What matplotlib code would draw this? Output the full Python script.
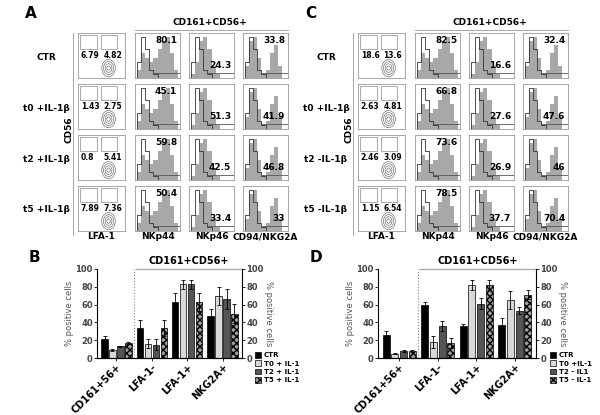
import matplotlib
matplotlib.use("Agg")
import matplotlib.pyplot as plt
import numpy as np

W, H = 600, 415
fig = plt.figure(figsize=(6, 4.15), dpi=100)

def ax_px(x0, y0, x1, y1):
    return fig.add_axes([x0 / W, 1 - y1 / H, (x1 - x0) / W, (y1 - y0) / H])

# ---------------- data ----------------
rowsA = ["CTR", "t0 +IL-1β", "t2 +IL-1β", "t5 +IL-1β"]
rowsC = ["CTR", "t0 +IL-1β", "t2 -IL-1β", "t5 -IL-1β"]
dotA = [("6.79", "4.82"), ("1.43", "2.75"), ("0.8", "5.41"), ("7.89", "7.36")]
dotC = [("18.6", "13.6"), ("2.63", "4.81"), ("2.46", "3.09"), ("1.15", "6.54")]
histA = [("80.1", "24.3", "33.8"), ("45.1", "51.3", "41.9"),
         ("59.8", "42.5", "46.8"), ("50.4", "33.4", "33")]
histC = [("82.5", "16.6", "32.4"), ("66.8", "27.6", "47.6"),
         ("73.6", "26.9", "46"), ("78.5", "37.7", "70.4")]
hist_cols = ["NKp44", "NKp46", "CD94/NKG2A"]
# generic histogram shapes (heights per bin) per column: filled, control outline
shape_fill = [[0, 2, 6, 5, 4, 5, 7, 9, 10, 6, 2, 0],
              [0, 1, 4, 9, 10, 7, 3, 1, 0, 0, 0, 0],
              [0, 3, 9, 10, 5, 1, 2, 6, 8, 3, 0, 0]]
shape_ctrl = [0, 4, 10, 7, 2, 1, 0, 0, 0, 0, 0, 0]

groups = ["CD161+56+", "LFA-1-", "LFA-1+", "NKG2A+"]
seriesB = ["CTR", "T0 + IL-1", "T2 + IL-1", "T5 + IL-1"]
seriesD = ["CTR", "T0 +IL-1", "T2 - IL1", "T5 - IL-1"]
valsB = [[21, 34, 63, 47], [9, 16, 83, 70], [13, 15, 83, 66], [17, 34, 63, 50]]
errB = [[4, 9, 10, 8], [1, 5, 5, 10], [1, 6, 5, 11], [1, 9, 10, 11]]
valsD = [[26, 60, 36, 37], [5, 18, 82, 65], [8, 36, 61, 53], [8, 17, 82, 71]]
errD = [[4, 3, 2, 8], [1, 7, 6, 10], [1, 6, 6, 4], [1, 6, 6, 5]]
yticks = [0, 20, 40, 60, 80, 100]

colors = ["black", "#d8d8d8", "#555555", "#a0a0a0"]
hatches = [None, None, None, "xxxxx"]

def flow_block(xoff, rows, dots, hists, letter):
    fig.text((xoff + 5) / W, 1 - 18 / H, letter, fontsize=11, fontweight="bold")
    colx = [(xoff + 58, xoff + 105), (xoff + 115, xoff + 160),
            (xoff + 169, xoff + 214), (xoff + 223, xoff + 268)]
    fig.text((xoff + 190) / W, 1 - 25 / H, "CD161+CD56+", fontsize=6.5,
             fontweight="bold", ha="center")
    fig.add_artist(plt.Line2D([(xoff + 115) / W, (xoff + 268) / W],
                              [1 - 30 / H] * 2, color="#999999", lw=0.6))
    fig.add_artist(plt.Line2D([(xoff + 53) / W] * 2, [1 - 33 / H, 1 - 235 / H],
                              color="#999999", lw=0.6))
    for r in range(4):
        y0 = 33 + r * 51
        y1 = y0 + 45
        fig.text((xoff + 26) / W, 1 - (y0 + 24) / H, rows[r], fontsize=6.5,
                 fontweight="bold", ha="center", va="center")
        a = ax_px(colx[0][0], y0, colx[0][1], y1)
        a.set_xlim(0, 10); a.set_ylim(0, 10)
        a.add_patch(plt.Rectangle((0.5, 6.5), 3.5, 3, fill=False, ec="#888", lw=0.5))
        a.add_patch(plt.Rectangle((4.8, 6.5), 3.5, 3, fill=False, ec="#888", lw=0.5))
        for k, rad in enumerate([0.6, 1.2, 1.8, 2.4]):
            a.add_patch(matplotlib.patches.Ellipse((6.5, 2.2), rad * 1.2, rad * 1.6,
                        fill=False, ec="#555", lw=0.4))
        a.text(0.6, 4.4, dots[r][0], fontsize=5.5, fontweight="bold")
        a.text(5.4, 4.4, dots[r][1], fontsize=5.5, fontweight="bold")
        a.set_xticks([]); a.set_yticks([])
        for sp in a.spines.values():
            sp.set_color("#999"); sp.set_linewidth(0.6)
        for c in range(3):
            h = ax_px(colx[c + 1][0], y0, colx[c + 1][1], y1)
            xs = np.arange(len(shape_fill[c]))
            h.fill_between(xs, shape_fill[c], color="#a8a8a8", step="mid", lw=0)
            h.step(xs, shape_ctrl, where="mid", color="#333", lw=0.6)
            h.plot([4.5, 11], [1.2, 1.2], color="#555", lw=0.6)
            h.set_xlim(0, 11); h.set_ylim(0, 11)
            txt = hists[r][c]
            ty = 8.5 if (c == 2 and r < 1) or c == 0 else 2.5
            h.text(10.3, ty, txt, fontsize=6.5, fontweight="bold", ha="right")
            h.set_xticks([]); h.set_yticks([])
            for sp in h.spines.values():
                sp.set_color("#999"); sp.set_linewidth(0.6)
            if r == 3:
                h.set_xlabel(hist_cols[c], fontsize=6.5, fontweight="bold", labelpad=1)
        if r == 3:
            a.set_xlabel("LFA-1", fontsize=6.5, fontweight="bold", labelpad=1)
    fig.text((xoff + 49) / W, 1 - 130 / H, "CD56", fontsize=6.5, fontweight="bold",
             rotation=90, ha="center", va="center")

flow_block(20, rowsA, dotA, histA, "A")
flow_block(300, rowsC, dotC, histC, "C")

def bar_block(x0, xdash, x1, vals, errs, series, letter):
    fig.text((x0 - 68) / W, 1 - 262 / H, letter, fontsize=11, fontweight="bold")
    ax = ax_px(x0, 269, x1, 358)
    n = len(groups)
    width = 0.18
    xs = np.arange(n, dtype=float)
    for i in range(4):
        ax.bar(xs + (i - 1.5) * width * 1.25, vals[i], width, yerr=errs[i],
               color=colors[i], edgecolor="black", lw=0.5, hatch=hatches[i],
               error_kw=dict(lw=0.6, capsize=1.5, capthick=0.6), label=series[i])
    ax.set_ylim(0, 100)
    ax.set_xlim(-0.55, n - 0.45)
    ax.set_yticks(yticks)
    ax.tick_params(labelsize=6, length=2, width=0.6, pad=1)
    ax.set_xticks(xs)
    ax.set_xticklabels(groups, rotation=45, ha="right", fontsize=7, fontweight="bold",
                       rotation_mode="anchor")
    for t in ax.get_yticklabels():
        t.set_fontweight("bold"); t.set_color("#444")
    ax.spines["top"].set_visible(False)
    ax.spines["right"].set_visible(False)
    ax.set_ylabel("% positive cells", fontsize=6, color="#555", labelpad=1)
    ax.axvline(0.5, color="#888", ls=":", lw=0.8)
    ax2 = ax.twinx()
    ax2.set_ylim(0, 100); ax2.set_yticks(yticks)
    ax2.tick_params(labelsize=6, length=2, width=0.6, pad=1)
    for t in ax2.get_yticklabels():
        t.set_fontweight("bold"); t.set_color("#444")
    ax2.spines["top"].set_visible(False)
    ax2.spines["left"].set_visible(False)
    ax2.set_ylabel("% positive cells", fontsize=6, color="#555", rotation=270,
                   labelpad=7)
    ax.plot([0.55, n - 0.45], [100, 100], color="#aaa", lw=1, clip_on=False)
    ax.text((0.55 + n - 0.45) / 2, 103, "CD161+CD56+", fontsize=7, fontweight="bold",
            ha="center", va="bottom")
    ax.legend(loc="upper left", bbox_to_anchor=(1.07, 0.1), frameon=False,
              handlelength=0.9, handleheight=0.9, labelspacing=0.3, handletextpad=0.4,
              borderaxespad=0, prop=dict(size=5, weight="bold"))

bar_block(97, 134, 242, valsB, errB, seriesB, "B")
bar_block(378, 413, 536, valsD, errD, seriesD, "D")

fig.savefig("out.png", dpi=100)
